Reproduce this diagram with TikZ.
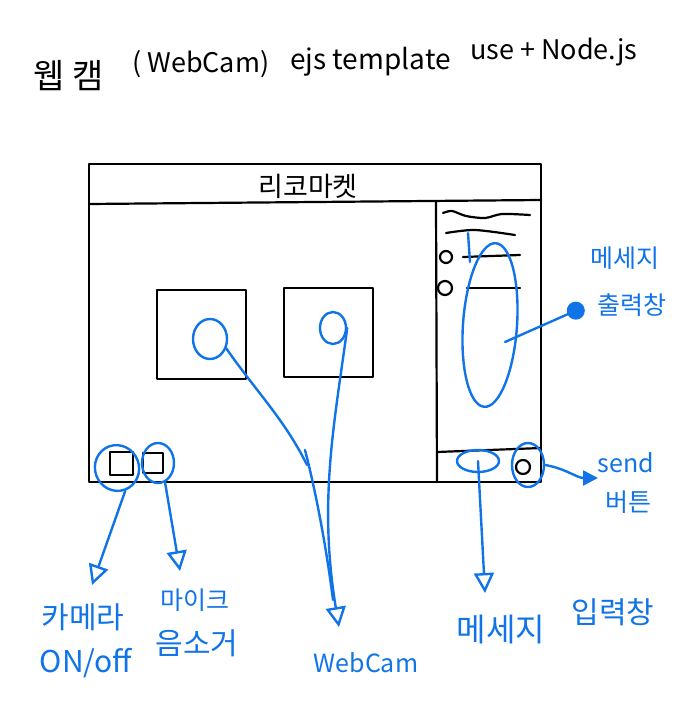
\documentclass[tikz,border=0pt]{standalone}
\usepackage{fontspec}
\newfontfamily\krfont{Noto Sans CJK KR}
\usetikzlibrary{arrows.meta,shapes.geometric}
\definecolor{penblue}{RGB}{16,116,232}
\tikzset{
  ink/.style={line width=2.2pt, line cap=round, line join=round},
  pen/.style={penblue, line width=2.4pt, line cap=round, line join=round},
  ring/.style={pen, draw, ellipse, inner sep=0pt},
  head/.style={inner sep=0pt, font=\krfont\fontsize{27}{30}\selectfont},
  bighead/.style={head, font=\krfont\fontsize{34}{38}\selectfont},
  note/.style={penblue, inner sep=0pt, font=\krfont\fontsize{30}{34}\selectfont},
  smallnote/.style={note, font=\krfont\fontsize{25}{28}\selectfont},
  openhead/.style={-{Triangle[open, length=20pt, width=20pt]}},
  fullhead/.style={-{Triangle[length=15pt, width=15pt]}},
  blobhead/.style={-{Circle[length=18pt]}},
}
\begin{document}
\begin{tikzpicture}[x=1pt,y=-1pt]
  \useasboundingbox (0,0) rectangle (684,704);
  % heading
  \node[bighead, anchor=west] (hkr) at (33,76) {웹 캠};
  \node[head, anchor=west] (hcam) at (132,64) {( WebCam)};
  \node[head, font=\krfont\fontsize{28}{30}\selectfont, anchor=west] (hejs) at (290,62) {ejs template};
  \node[head, anchor=west] (hnode) at (470,52) {use + Node.js};

  % window frame
  \draw[ink] (89,164) rectangle (541,482);
  \draw[ink] (89,204) -- (541,200);
  \node[head] (title) at (308,186) {리코마켓};
  \draw[ink] (436,202) -- (437,482);
  \draw[ink] (437,452) -- (541,448);
  % video boxes
  \draw[ink] (157,290) rectangle (246,379);
  \draw[ink] (284,288) rectangle (373,377);
  % camera and mic buttons
  \draw[ink] (110,452) rectangle (133,475);
  \draw[ink] (143,453) rectangle (163,473);
  % chat list
  \draw[ink] plot[smooth] coordinates {(443,213) (452,211) (466,216) (485,218) (502,214) (530,215)};
  \draw[ink] plot[smooth] coordinates {(446,233) (475,230) (515,235)};
  \draw[ink] (446,257) circle [radius=6];
  \draw[ink] (463,257) -- (520,255);
  \draw[ink] (445,288) circle [radius=7];
  \draw[ink] (467,288) -- (520,288);
  % send button
  \draw[ink] (523,467) circle [radius=7];

  % notes
  \node[ring, minimum width=44, minimum height=46, rotate=20] (camring) at (117,468) {};
  \node[ring, minimum width=32, minimum height=40] (micring) at (158,463) {};
  \node[ring, minimum width=34, minimum height=40] (vidring1) at (210,339) {};
  \node[ring, minimum width=26, minimum height=32] (vidring2) at (333,328) {};
  \node[ring, minimum width=54, minimum height=164, rotate=-4] (outring) at (490,325) {};
  \node[ring, minimum width=42, minimum height=22] (inring) at (478,461) {};
  \node[ring, minimum width=32, minimum height=44] (sendring) at (528,465) {};
  \draw[pen] (468,233) -- (470,262);

  \coordinate (camtip) at (92,585);
  \coordinate (mictip) at (180,571);
  \coordinate (webtip) at (339,627);
  \coordinate (vidmid) at (307,465);
  \coordinate (outfrom) at (505,342);
  \coordinate (outtip) at (584,307);
  \coordinate (intip) at (485,593);
  \coordinate (sendtip) at (598,478);

  \draw[pen, openhead] (camring.south) -- (camtip);
  \draw[pen, openhead] (micring.-70) -- (mictip);
  \draw[pen] (vidring1.-30) .. controls (255,390) and (285,420) .. (vidmid);
  \draw[pen] (305,450) .. controls (318,500) and (328,560) .. (333,600);
  \draw[pen, openhead] (vidring2.east) .. controls (335,420) and (318,500) .. (webtip);
  \draw[pen, blobhead] (outfrom) -- (outtip);
  \draw[pen, openhead] (inring.center) -- (intip);
  \draw[pen, fullhead] (sendring.east) to[out=-10, in=180] (sendtip);

  \node[note] (lcam) at (83,617) {카메라};
  \node[note] (lonoff) at (86,663) {ON/off};
  \node[smallnote] (lmic) at (195,600) {마이크};
  \node[note] (lmute) at (197,643) {음소거};
  \node[smallnote] (lweb) at (366,663) {WebCam};
  \node[note, font=\krfont\fontsize{32}{34}\selectfont] (lmsg) at (501,630) {메세지};
  \node[note] (linput) at (613,612) {입력창};
  \node[smallnote] (lmsg2) at (625,258) {메세지};
  \node[smallnote] (loutput) at (632,305) {출력창};
  \node[smallnote] (lsend) at (626,463) {send};
  \node[smallnote] (lbtn) at (628,502) {버튼};
\end{tikzpicture}
\end{document}
